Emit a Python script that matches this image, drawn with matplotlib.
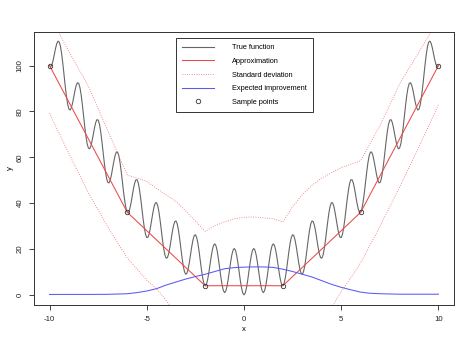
import matplotlib
matplotlib.use("Agg")
import matplotlib.pyplot as plt
import numpy as np

plt.rcParams['font.family'] = ['Liberation Sans', 'DejaVu Sans']

# True function values read at x = 0 .. 10, step 1/16 (the curve is mirror-symmetric about x = 0)
true_half = [0, 0.77, 2.95, 6.21, 10.06, 13.92, 17.21, 19.43, 20.25, 19.56, 17.46, 14.30, 10.56, 6.83, 3.70, 1.64,
             1, 1.89, 4.20, 7.58, 11.56, 15.55, 18.96, 21.31, 22.25, 21.68, 19.71, 16.67, 13.06, 9.46, 6.45, 4.51,
             4, 5.01, 7.45, 10.96, 15.06, 19.17, 22.71, 25.18, 26.25, 25.81, 23.96, 21.05, 17.56, 14.08, 11.20, 9.39,
             9, 10.14, 12.70, 16.33, 20.56, 24.80, 28.46, 31.06, 32.25, 31.93, 30.21, 27.42, 24.06, 20.71, 17.95, 16.26,
             16, 17.26, 19.95, 23.71, 28.06, 32.42, 36.21, 38.93, 40.25, 40.06, 38.46, 35.80, 32.56, 29.33, 26.70, 25.14,
             25, 26.39, 29.20, 33.08, 37.56, 42.05, 45.96, 48.81, 50.25, 50.18, 48.71, 46.17, 43.06, 39.96, 37.45, 36.01,
             36, 37.51, 40.45, 44.46, 49.06, 53.67, 57.71, 60.68, 62.25, 62.31, 60.96, 58.55, 55.56, 52.58, 50.20, 48.89,
             49, 50.64, 53.70, 57.83, 62.56, 67.30, 71.46, 74.56, 76.25, 76.43, 75.21, 72.92, 70.06, 67.21, 64.95, 63.76,
             64, 65.76, 68.95, 73.21, 78.06, 82.92, 87.21, 90.43, 92.25, 92.56, 91.46, 89.30, 86.56, 83.83, 81.70, 80.64,
             81, 82.89, 86.20, 90.58, 95.56, 100.55, 104.96, 108.31, 110.25, 110.68, 109.71, 107.67, 105.06, 102.46, 100.45, 99.51,
             100]
true_y = true_half[:0:-1] + true_half
true_x = np.linspace(-10, 10, len(true_y))

# Sample points (also the approximation knots)
sample_x = [-10, -6, -2, 2, 6, 10]
sample_y = [100, 36, 4, 4, 36, 100]

# Standard deviation band (upper)
upper_x = [-10, -9, -8, -7, -6, -5.5, -5, -4.5, -4, -3.5, -3, -2.5, -2,
           -1.5, -1, -0.5, 0, 0.5, 1, 1.5, 2, 2.5, 3, 3.5, 4, 4.5, 5, 5.5,
           6, 7, 8, 9, 10]
upper_y = [122, 106, 91, 71.5, 52.2, 51, 49.5, 46.4, 43.6, 40.8, 36.6, 32.2, 27.7,
           30.2, 31.8, 33.2, 33.8, 34, 33.6, 33.2, 31.8, 38.5, 43.7, 47.8, 51, 53.3, 55.5, 57,
           58.5, 74, 92, 106, 120]
# Standard deviation band (lower, visible parts)
lower_left_x = [-10, -9, -8, -7, -6, -5, -4.5, -4, -3.5]
lower_left_y = [79.2, 61.5, 44.5, 29.5, 16, 6.5, 2.6, -2.5, -8]
lower_right_x = [4.5, 5, 5.5, 6, 7, 8, 9, 10]
lower_right_y = [-5.5, 1.5, 7.5, 14, 30, 47, 64.5, 83]

# Expected improvement
ei_x = [-10, -8, -7, -6, -5.5, -5, -4.5, -4, -3.5, -3, -2.5, -2, -1.5, -1, -0.5,
        0, 0.5, 1, 1.5, 2, 2.5, 3, 3.5, 4, 4.5, 5, 5.5, 6, 6.5, 7, 8, 10]
ei_y = [0.2, 0.2, 0.25, 0.5, 1.0, 1.7, 2.7, 4.3, 5.6, 6.9, 8.0, 9.0, 10.2, 11.4, 11.9,
        12.1, 12.2, 12.2, 12.0, 11.2, 10.2, 9.0, 7.8, 6.2, 4.6, 3.3, 2.2, 1.2, 0.7, 0.5, 0.3, 0.3]

xticks = [-10, -5, 0, 5, 10]
yticks = [0, 20, 40, 60, 80, 100]

W, H = 474, 355
fig = plt.figure(figsize=(W / 100, H / 100), dpi=100)
ax = fig.add_axes([34 / W, 1 - 305 / H, (454 - 34) / W, (305 - 32) / H])

red = '#ea4a46'
dot = (0, (1, 1.8))
ax.plot(true_x, true_y, color='#666666', lw=0.8, label='True function')
ax.plot(sample_x, sample_y, color=red, lw=0.75, label='Approximation')
ax.plot(upper_x, upper_y, color='#f06a6a', lw=0.6, ls=dot, label='Standard deviation')
ax.plot(lower_left_x, lower_left_y, color='#f06a6a', lw=0.6, ls=dot)
ax.plot(lower_right_x, lower_right_y, color='#f06a6a', lw=0.6, ls=dot)
ax.plot(ei_x, ei_y, color='#5a5af0', lw=0.75, label='Expected improvement')
ax.plot(sample_x, sample_y, ls='none', marker='o', ms=3.2, mfc='none', mec='#333333',
        mew=0.6, label='Sample points')

ax.set_xlim(-10.8, 10.8)
ax.set_ylim(-4.41, 114.66)
ax.set_xticks(xticks)
ax.set_xticklabels([str(t) for t in xticks])
ax.set_yticks(yticks)
ax.set_yticklabels([str(t) for t in yticks], rotation=90, va='center', ha='right')
ax.tick_params(direction='out', length=3.6, width=0.6, pad=4, labelsize=5.6, colors='#222222')
for s in ax.spines.values():
    s.set_linewidth(0.7)
    s.set_color('#333333')
ax.set_xlabel('x', fontsize=5.6, labelpad=2.5)
ax.set_ylabel('y', fontsize=5.6, labelpad=2)

leg = ax.legend(loc='upper left', bbox_to_anchor=(176 / W, 1 - 38 / H),
                bbox_transform=fig.transFigure, borderaxespad=0, fontsize=5.3,
                handlelength=4.3, handletextpad=2.4, labelspacing=0.88,
                borderpad=0.85, fancybox=False, edgecolor='#333333', framealpha=1,
                numpoints=1)
leg.get_frame().set_linewidth(0.7)

fig.savefig('out.png', dpi=100)
